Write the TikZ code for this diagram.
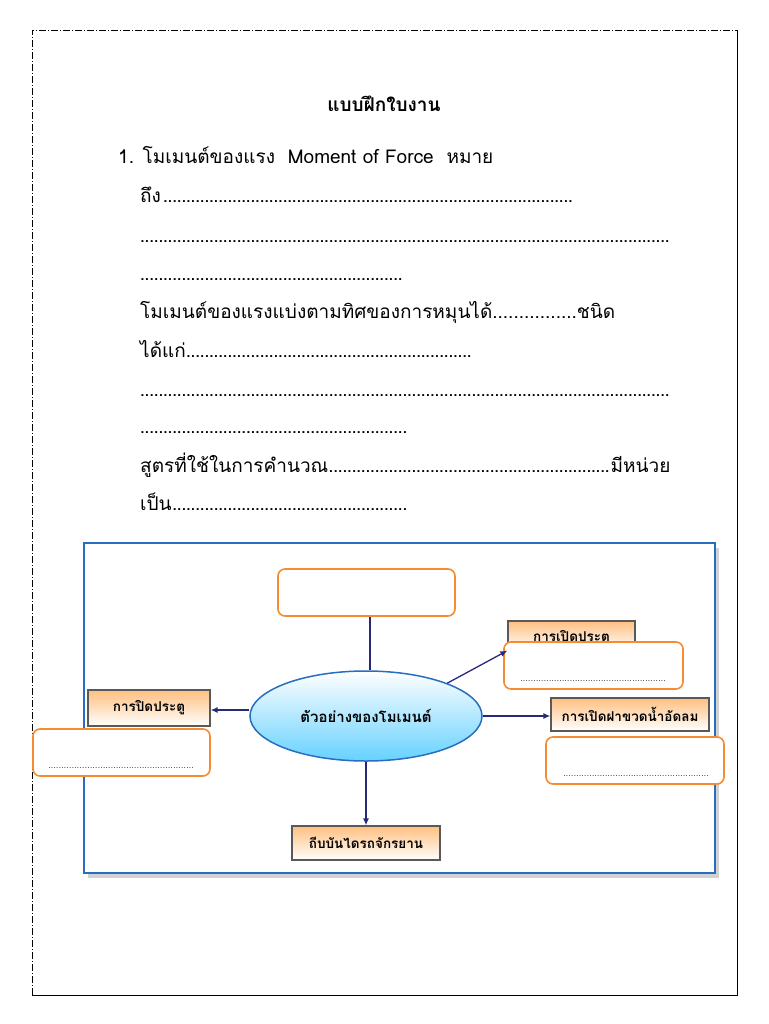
\documentclass[tikz,border=0pt]{standalone}
\usepackage{fontspec}
\setmainfont{Loma}[Script=Thai]
\usetikzlibrary{shapes.geometric,arrows.meta,shadows}
\definecolor{frameblue}{RGB}{40,110,190}
\definecolor{arrowblue}{RGB}{40,40,120}
\definecolor{boxorange}{RGB}{245,140,50}
\newcommand{\mydots}{\leaders\hbox to 4.6pt{\hss.\hss}\hfill\null}
\newcommand{\smalldots}{\leaders\hbox to 2.6pt{\hss.\hss}\hfill\null}
\tikzset{
 txt/.style={anchor=base west,font=\fontsize{19}{22}\selectfont,inner sep=0pt},
 graybox/.style={draw=gray!70!black,line width=1.3pt,top color=orange!50,bottom color=white,font=\bfseries\fontsize{13.5}{15}\selectfont,inner sep=0pt},
 orbox/.style={draw=boxorange,line width=1.6pt,rounded corners=7pt,fill=white},
 arr/.style={draw=arrowblue,line width=1.3pt,-{Latex[length=7pt,width=6pt]}},
 dotline/.style={anchor=base west,inner sep=0pt,font=\fontsize{8}{10}\selectfont}
}
\begin{document}
\begin{tikzpicture}[x=1pt,y=-1pt]
\useasboundingbox (0,0) rectangle (768,1024);
\fill[white] (0,0) rectangle (768,1024);
% page border
\draw[line width=0.8pt,dash pattern=on 7pt off 2pt on 1pt off 2pt] (32,995) -- (32,30) -- (737,30);
\draw[line width=0.8pt] (737,30) -- (737,995) -- (32,995);
% text
\node[anchor=base,inner sep=0pt,font=\bfseries\fontsize{19}{22}\selectfont] (title) at (384,112) {แบบฝึกใบงาน};
\node[txt] (l1) at (118,164) {1. โมเมนต์ของแรง\ \ Moment of Force\ \ หมาย};
\node[txt,text width=436pt] (l2) at (140,203) {ถึง\mydots};
\node[txt,text width=533pt] (l3) at (140,243) {\mydots};
\node[txt,text width=265pt] (l4) at (140,280) {\mydots};
\node[txt] (l5) at (140,318) {โมเมนต์ของแรงแบ่งตามทิศของการหมุนได้................ชนิด};
\node[txt,text width=332pt] (l6) at (140,357) {ได้แก่\mydots};
\node[txt,text width=530pt] (l7) at (140,396) {\mydots};
\node[txt,text width=268pt] (l8) at (140,433) {\mydots};
\node[txt,text width=530pt] (l9) at (140,472) {สูตรที่ใช้ในการคำนวณ\mydots มีหน่วย};
\node[txt,text width=267pt] (l10) at (140,510) {เป็น\mydots};
% diagram frame
\draw[frameblue,line width=1.2pt,fill=white,drop shadow={shadow xshift=4pt,shadow yshift=-5pt,opacity=0.35}] (84,543) rectangle (715,873);
% ellipse
\node[ellipse,draw=frameblue,line width=1.5pt,top color=white,bottom color=cyan!70!blue!60,minimum width=232pt,minimum height=90pt,font=\bfseries\fontsize{15}{17}\selectfont] (el) at (366,716) {ตัวอย่างของโมเมนต์};
% top
\draw[gray!70,line width=1.5pt] (296,569) -- (440,569);
\node[orbox,minimum width=177pt,minimum height=47pt] (top) at (366.5,592.5) {};
\draw[arrowblue,line width=1.3pt] (top.south -| 370,0) -- (el.north -| 370,0);
% top right
\node[graybox,minimum width=127pt,minimum height=29pt,text depth=-8pt] (tr) at (571.5,635.5) {การเปิดประตู};
\node[orbox,minimum width=179pt,minimum height=47pt] (trw) at (593.5,665.5) {};
\node[dotline,text width=147pt] (trd) at (520,681) {\smalldots};
\draw[arr] (el.22) -- (tr.south west);
% left
\node[graybox,minimum width=122pt,minimum height=36pt] (lf) at (149,708) {การปิดประตู};
\draw[arr] (el.west |- 0,710) -- (lf.east |- 0,710);
\node[orbox,minimum width=177pt,minimum height=47pt] (lfw) at (121.5,752.5) {};
\node[dotline,text width=148pt] (lfd) at (48,768) {\smalldots};
% right
\node[graybox,minimum width=158pt,minimum height=33pt] (rt) at (630,714.5) {การเปิดฝาขวดน้ำอัดลม};
\draw[arr] (el.east) -- (rt.west |- el.east);
\node[orbox,minimum width=178pt,minimum height=47pt] (rtw) at (635,760.5) {};
\node[dotline,text width=147pt] (rtd) at (563,776) {\smalldots};
% bottom
\node[graybox,minimum width=148pt,minimum height=34pt] (bt) at (366,843) {ถีบบันไดรถจักรยาน};
\draw[arr] (el.south) -- (bt.north);
\end{tikzpicture}
\end{document}
